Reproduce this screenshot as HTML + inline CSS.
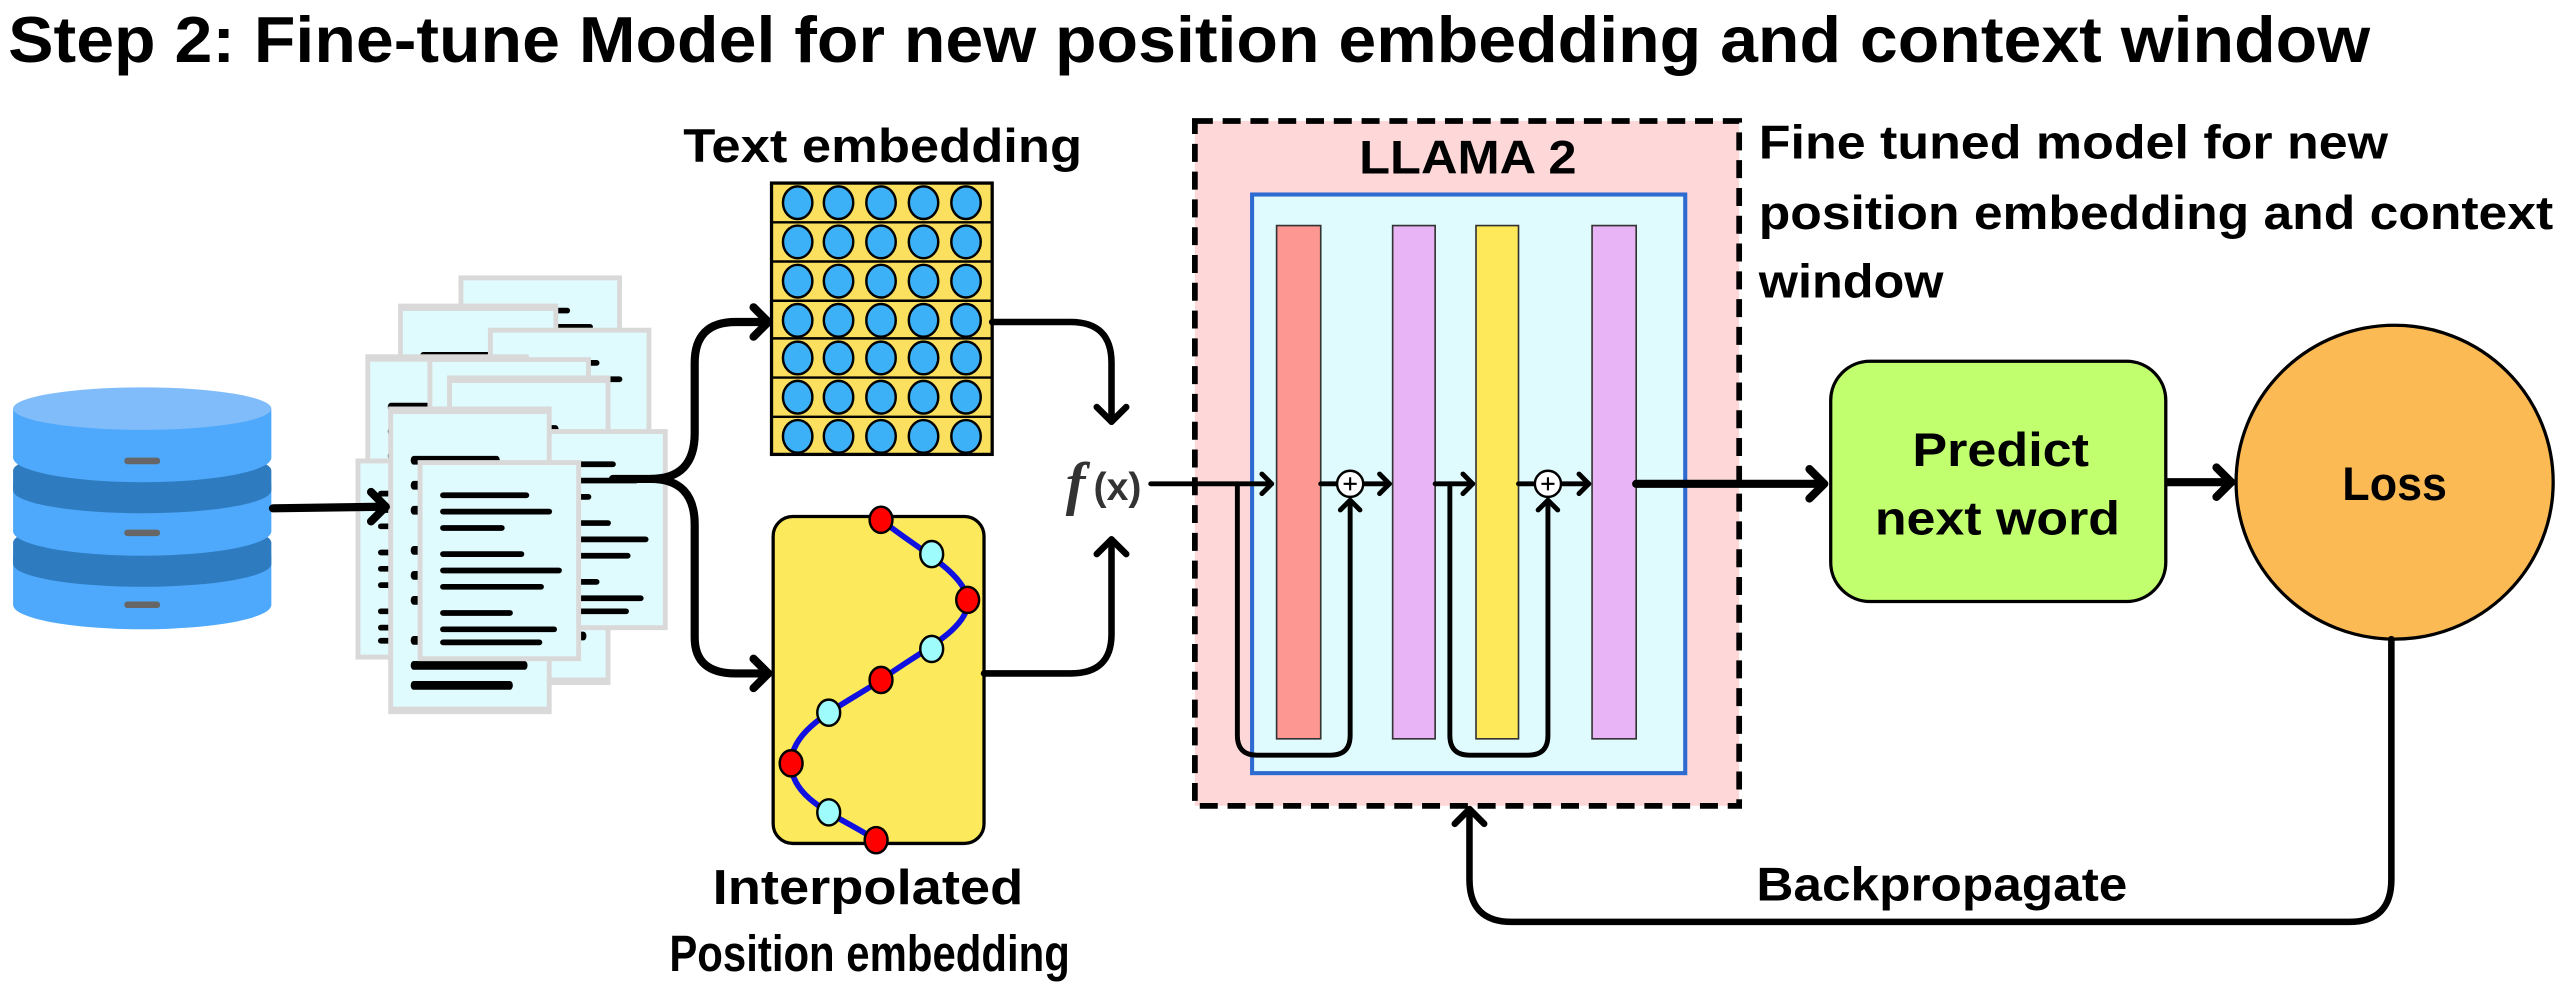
<!DOCTYPE html>
<html><head><meta charset="utf-8"><style>html,body{margin:0;padding:0;background:#fff}svg{display:block}</style></head>
<body>
<svg width="2563" height="984" viewBox="0 0 1568 602" xmlns="http://www.w3.org/2000/svg" font-family="'Liberation Sans', sans-serif" font-weight="bold">
<defs>
<g id="pg">
<rect x="0" y="0" width="97" height="120" fill="#e0fbfd" stroke="#d9d9d9" stroke-width="3"/>
<g stroke="#000" stroke-width="3.5" stroke-linecap="round">
<line x1="14" y1="20" x2="65" y2="20"/><line x1="14" y1="30" x2="79" y2="30"/><line x1="14" y1="40" x2="50" y2="40"/>
<line x1="14" y1="56" x2="62" y2="56"/><line x1="14" y1="66" x2="85" y2="66"/><line x1="14" y1="76" x2="74" y2="76"/>
<line x1="14" y1="92" x2="55" y2="92"/><line x1="14" y1="102" x2="82" y2="102"/><line x1="14" y1="110" x2="73" y2="110"/>
</g></g>
</defs>
<text x="5" y="38" font-size="40" textLength="1445" lengthAdjust="spacingAndGlyphs">Step 2: Fine-tune Model for new position embedding and context window</text>

<!-- database -->
<g>
<path d="M8,340 L8,370 A79,15 0 0 0 166,370 L166,340 Z" fill="#4ea8fb"/>
<path d="M8,332 A79,14 0 0 1 166,332 L166,345 A79,14 0 0 1 8,345 Z" fill="#2e7bbf"/>
<path d="M8,296 L8,325 A79,15 0 0 0 166,325 L166,296 Z" fill="#4ea8fb"/>
<path d="M8,288 A79,14 0 0 1 166,288 L166,300 A79,14 0 0 1 8,300 Z" fill="#2e7bbf"/>
<path d="M8,250 L8,280 A79,15 0 0 0 166,280 L166,250 Z" fill="#4ea8fb"/>
<ellipse cx="87" cy="250" rx="79" ry="13" fill="#7fbcf9"/>
<g stroke="#666" stroke-width="4" stroke-linecap="round"><line x1="78" y1="282" x2="96" y2="282"/><line x1="78" y1="326" x2="96" y2="326"/><line x1="78" y1="370" x2="96" y2="370"/></g>
</g>

<!-- documents -->
<use href="#pg" transform="translate(282,170)"/>
<use href="#pg" transform="translate(245,188) scale(0.98,1.5)"/>
<use href="#pg" transform="translate(300,202)"/>
<use href="#pg" transform="translate(225,219) scale(1,1.5)"/>
<use href="#pg" transform="translate(263,220)"/>
<use href="#pg" transform="translate(275,232) scale(1,1.54)"/>
<use href="#pg" transform="translate(310,264)"/>
<use href="#pg" transform="translate(219,282)"/>
<use href="#pg" transform="translate(239,251) scale(1,1.53)"/>
<use href="#pg" transform="translate(257,283)"/>

<g fill="none" stroke="#000" stroke-width="5" stroke-linecap="round" stroke-linejoin="round">
<line x1="167" y1="311" x2="236" y2="310"/>
<path d="M375,293 L398,293 Q425,293 425,265 L425,222 Q425,197 450,197 L470,197"/>
<path d="M398,293 Q425,293 425,321 L425,390 Q425,412 450,412 L470,412"/>
<path d="M227,301 L236,310 L227,319"/>
<path d="M461,188 L470,197 L461,206"/>
<path d="M461,403 L470,412 L461,421"/>
</g>

<!-- text embedding -->
<text x="540" y="99" font-size="29" text-anchor="middle" textLength="244" lengthAdjust="spacingAndGlyphs">Text embedding</text>
<g stroke="#000" stroke-width="1.5">
<rect x="472" y="112" width="135" height="166" fill="#fae05e" stroke-width="2"/>
<g fill="none"><line x1="472" y1="136" x2="607" y2="136"/><line x1="472" y1="160" x2="607" y2="160"/><line x1="472" y1="184" x2="607" y2="184"/><line x1="472" y1="207" x2="607" y2="207"/><line x1="472" y1="231" x2="607" y2="231"/><line x1="472" y1="255" x2="607" y2="255"/></g>
<g fill="#3cb1f8" id="row">
<ellipse cx="488" cy="124" rx="9" ry="10"/><ellipse cx="513" cy="124" rx="9" ry="10"/><ellipse cx="539" cy="124" rx="9" ry="10"/><ellipse cx="565" cy="124" rx="9" ry="10"/><ellipse cx="591" cy="124" rx="9" ry="10"/>
</g>
<use href="#row" y="24"/><use href="#row" y="48"/><use href="#row" y="72"/><use href="#row" y="95"/><use href="#row" y="119"/><use href="#row" y="143"/>
</g>

<!-- position embedding -->
<rect x="473" y="316" width="129" height="200" rx="12" fill="#fdea5c" stroke="#000" stroke-width="2"/>
<path d="M539,318 C560,335 590,350 592,367 C594,385 560,400 539,416 C515,432 484,445 484,467 C484,490 515,500 536,514" fill="none" stroke="#1010e0" stroke-width="3.5"/>
<g stroke="#000" stroke-width="1.5">
<g fill="#fe0000"><ellipse cx="539" cy="318" rx="7" ry="8"/><ellipse cx="592" cy="367" rx="7" ry="8"/><ellipse cx="539" cy="416" rx="7" ry="8"/><ellipse cx="484" cy="467" rx="7" ry="8"/><ellipse cx="536" cy="514" rx="7" ry="8"/></g>
<g fill="#9ffcfc"><ellipse cx="570" cy="339" rx="7" ry="8"/><ellipse cx="570" cy="397" rx="7" ry="8"/><ellipse cx="507" cy="436" rx="7" ry="8"/><ellipse cx="507" cy="497" rx="7" ry="8"/></g>
</g>
<text x="531" y="553" font-size="30" text-anchor="middle" textLength="190" lengthAdjust="spacingAndGlyphs">Interpolated</text>
<text x="532" y="594" font-size="31" text-anchor="middle" textLength="245" lengthAdjust="spacingAndGlyphs">Position embedding</text>

<!-- to f(x) -->
<g fill="none" stroke="#000" stroke-width="4" stroke-linecap="round" stroke-linejoin="round">
<path d="M607,197 L655,197 Q680,197 680,222 L680,258"/>
<path d="M602,412 L655,412 Q680,412 680,388 L680,330"/>
<path d="M671,249 L680,258 L689,249"/>
<path d="M671,339 L680,330 L689,339"/>
</g>
<text x="652" y="308" font-size="36" font-style="italic" fill="#333" font-family="'Liberation Serif', serif">f</text>
<text x="669" y="306" font-size="24" fill="#333">(x)</text>

<!-- LLAMA -->
<rect x="731" y="74" width="333" height="419" fill="#fed8d9" stroke="#000" stroke-width="3.5" stroke-dasharray="11,6"/>
<text x="898" y="106" font-size="29" text-anchor="middle" textLength="133" lengthAdjust="spacingAndGlyphs">LLAMA 2</text>
<rect x="766" y="119" width="265" height="354" fill="#dffbfd" stroke="#2d6bd1" stroke-width="2.5"/>
<g stroke="#333" stroke-width="1">
<rect x="781" y="138" width="27" height="314" fill="#fd9792"/>
<rect x="852" y="138" width="26" height="314" fill="#e9b4f6"/>
<rect x="903" y="138" width="26" height="314" fill="#fde95a"/>
<rect x="974" y="138" width="27" height="314" fill="#e9b4f6"/>
</g>
<g fill="none" stroke="#000" stroke-width="3" stroke-linecap="round" stroke-linejoin="round">
<line x1="704" y1="296" x2="778" y2="296"/>
<path d="M757,296 L757,450 Q757,462 769,462 L814,462 Q826,462 826,450 L826,306"/>
<line x1="808" y1="296" x2="817" y2="296"/>
<line x1="835" y1="296" x2="850" y2="296"/>
<line x1="878" y1="296" x2="901" y2="296"/>
<path d="M887,296 L887,450 Q887,462 899,462 L935,462 Q947,462 947,450 L947,306"/>
<line x1="929" y1="296" x2="938" y2="296"/>
<line x1="956" y1="296" x2="972" y2="296"/>
<path d="M772,290 L778,296 L772,302"/>
<path d="M844,290 L850,296 L844,302"/>
<path d="M895,290 L901,296 L895,302"/>
<path d="M966,290 L972,296 L966,302"/>
<path d="M820,312 L826,306 L832,312"/>
<path d="M941,312 L947,306 L953,312"/>
</g>
<g fill="#fff" stroke="#000" stroke-width="1.5"><circle cx="826" cy="296" r="8"/><circle cx="947" cy="296" r="8"/></g>
<g stroke="#000" stroke-width="1.3"><line x1="822" y1="296" x2="830" y2="296"/><line x1="826" y1="292" x2="826" y2="300"/><line x1="943" y1="296" x2="951" y2="296"/><line x1="947" y1="292" x2="947" y2="300"/></g>

<g fill="none" stroke="#000" stroke-width="5" stroke-linecap="round" stroke-linejoin="round">
<line x1="1001" y1="296" x2="1116" y2="296"/>
<path d="M1107,287 L1116,296 L1107,305"/>
<line x1="1325" y1="295" x2="1365" y2="295"/>
<path d="M1356,286 L1365,295 L1356,304"/>
</g>

<text font-size="29" textLength="385" lengthAdjust="spacingAndGlyphs" x="1076" y="97">Fine tuned model for new</text>
<text font-size="29" textLength="486" lengthAdjust="spacingAndGlyphs" x="1076" y="140">position embedding and context</text>
<text font-size="29" textLength="113" lengthAdjust="spacingAndGlyphs" x="1076" y="182">window</text>

<rect x="1120" y="221" width="205" height="147" rx="24" fill="#c1ff6f" stroke="#000" stroke-width="2"/>
<text x="1224" y="285" font-size="29" text-anchor="middle" textLength="108" lengthAdjust="spacingAndGlyphs">Predict</text>
<text x="1222" y="327" font-size="29" text-anchor="middle" textLength="150" lengthAdjust="spacingAndGlyphs">next word</text>
<ellipse cx="1465" cy="295" rx="97" ry="96" fill="#fcba55" stroke="#000" stroke-width="2"/>
<text x="1465" y="306" font-size="29" text-anchor="middle" textLength="64" lengthAdjust="spacingAndGlyphs">Loss</text>

<g fill="none" stroke="#000" stroke-width="4" stroke-linecap="round" stroke-linejoin="round">
<path d="M1463,391 L1463,538 Q1463,564 1437,564 L925,564 Q899,564 899,538 L899,495"/>
<path d="M890,504 L899,495 L908,504"/>
</g>
<text x="1188" y="551" font-size="29" text-anchor="middle" textLength="227" lengthAdjust="spacingAndGlyphs">Backpropagate</text>
</svg>
</body></html>
